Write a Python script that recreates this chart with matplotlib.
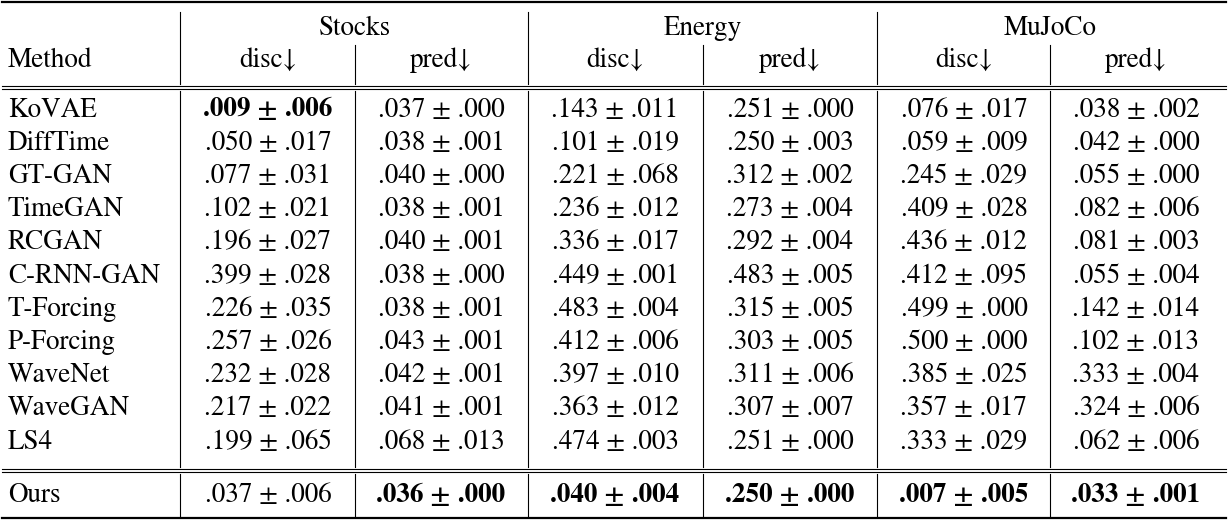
import matplotlib
matplotlib.use("Agg")
import matplotlib.pyplot as plt

methods = ["KoVAE", "DiffTime", "GT-GAN", "TimeGAN", "RCGAN", "C-RNN-GAN",
           "T-Forcing", "P-Forcing", "WaveNet", "WaveGAN", "LS4", "Ours"]
groups = ["Stocks", "Energy", "MuJoCo"]
subcols = ["disc↓", "pred↓"]
values = [
    [".009 ± .006", ".037 ± .000", ".143 ± .011", ".251 ± .000", ".076 ± .017", ".038 ± .002"],
    [".050 ± .017", ".038 ± .001", ".101 ± .019", ".250 ± .003", ".059 ± .009", ".042 ± .000"],
    [".077 ± .031", ".040 ± .000", ".221 ± .068", ".312 ± .002", ".245 ± .029", ".055 ± .000"],
    [".102 ± .021", ".038 ± .001", ".236 ± .012", ".273 ± .004", ".409 ± .028", ".082 ± .006"],
    [".196 ± .027", ".040 ± .001", ".336 ± .017", ".292 ± .004", ".436 ± .012", ".081 ± .003"],
    [".399 ± .028", ".038 ± .000", ".449 ± .001", ".483 ± .005", ".412 ± .095", ".055 ± .004"],
    [".226 ± .035", ".038 ± .001", ".483 ± .004", ".315 ± .005", ".499 ± .000", ".142 ± .014"],
    [".257 ± .026", ".043 ± .001", ".412 ± .006", ".303 ± .005", ".500 ± .000", ".102 ± .013"],
    [".232 ± .028", ".042 ± .001", ".397 ± .010", ".311 ± .006", ".385 ± .025", ".333 ± .004"],
    [".217 ± .022", ".041 ± .001", ".363 ± .012", ".307 ± .007", ".357 ± .017", ".324 ± .006"],
    [".199 ± .065", ".068 ± .013", ".474 ± .003", ".251 ± .000", ".333 ± .029", ".062 ± .006"],
    [".037 ± .006", ".036 ± .000", ".040 ± .004", ".250 ± .000", ".007 ± .005", ".033 ± .001"],
]
bold = {(0, 0), (11, 1), (11, 2), (11, 3), (11, 4), (11, 5)}

W, H = 1228, 523
fig = plt.figure(figsize=(W / 100, H / 100), dpi=100)
ax = fig.add_axes([0, 0, 1, 1])
ax.set_xlim(0, W)
ax.set_ylim(H, 0)
ax.axis("off")

fam = ["STIXGeneral", "DejaVu Serif"]
fs = 19.5
col_x = [268, 441, 615, 790, 964, 1136]
vlines = [180, 355, 528, 703, 877, 1050]
row_y = [110 + 33.2 * i for i in range(11)] + [495]

ax.plot([2, 1226], [2, 2], color="black", lw=1.6)
for y in (86, 89, 469, 472):
    ax.plot([2, 1226], [y, y], color="black", lw=0.8)
ax.plot([2, 1226], [518, 518], color="black", lw=1.6)

for i, x in enumerate(vlines):
    top = 12 if i % 2 == 0 else 45
    ax.plot([x, x], [top, 84], color="black", lw=0.8)
    ax.plot([x, x], [91, 467], color="black", lw=0.8)
    ax.plot([x, x], [474, 516], color="black", lw=0.8)

for g, name in enumerate(groups):
    ax.text((col_x[2 * g] + col_x[2 * g + 1]) / 2, 28, name, family=fam, fontsize=fs,
            ha="center", va="center")
    for s, sub in enumerate(subcols):
        ax.text(col_x[2 * g + s], 60, sub, family=fam, fontsize=fs, ha="center", va="center")
ax.text(8, 60, "Method", family=fam, fontsize=fs, ha="left", va="center")

for r, m in enumerate(methods):
    ax.text(8, row_y[r], m, family=fam, fontsize=fs, ha="left", va="center")
    for c, v in enumerate(values[r]):
        ax.text(col_x[c], row_y[r], v, family=fam, fontsize=fs, ha="center", va="center",
                fontweight="bold" if (r, c) in bold else "normal")

fig.savefig("out.png", dpi=100)
